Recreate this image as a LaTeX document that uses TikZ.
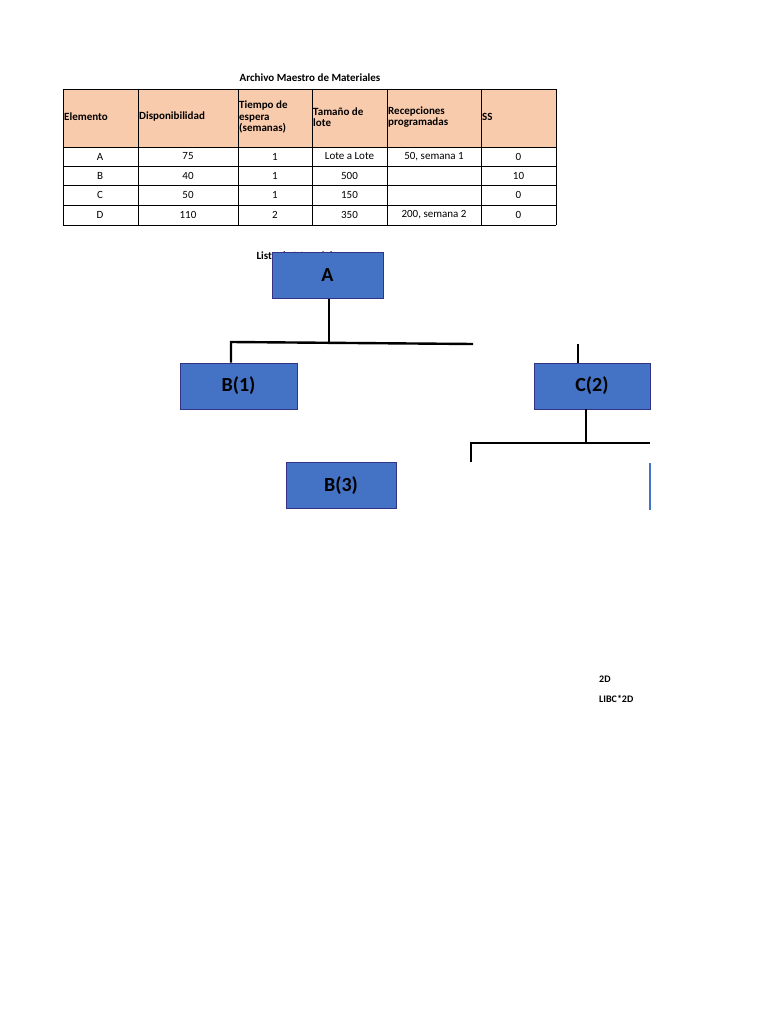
\documentclass[tikz,border=0pt]{standalone}
\usepackage{fontspec}
\setmainfont{Carlito}
\begin{document}
\begin{tikzpicture}[x=1pt,y=-1pt,
  cell/.style={draw=black,line width=0.6pt},
  bx/.style={draw=blue!40!black!80,fill=boxblue,line width=0.8pt,minimum width=#1,minimum height=46pt,inner sep=0pt,font=\bfseries\fontsize{20}{22}\selectfont},
  ln/.style={line width=2.4pt}]
\definecolor{peach}{HTML}{F8CBAD}
\definecolor{boxblue}{HTML}{4472C4}
\useasboundingbox (0,0) rectangle (768,1024);
\fill[white] (0,0) rectangle (768,1024);
\node[font=\bfseries\fontsize{11}{13}\selectfont] (title) at (310,78) {Archivo Maestro de Materiales};
% header
\fill[peach] (63,89) rectangle (556,147);
\def\xs{63,138,238,312,387,481,556}
\foreach \x in \xs {\draw[cell] (\x,89) -- (\x,225);}
\foreach \y in {89,147,166,185,205,225} {\draw[cell] (63,\y) -- (556,\y);}
\begin{scope}[font=\bfseries\fontsize{11}{11.5}\selectfont]
\node[anchor=west,inner sep=1pt] (h1) at (63,117) {Elemento};
\node[anchor=west,inner sep=1pt] (h2) at (138,117) {Disponibilidad};
\node[anchor=west,inner sep=1pt,align=left] (h3) at (238,117) {Tiempo de\\espera\\(semanas)};
\node[anchor=west,inner sep=1pt,align=left] (h4) at (312,117) {Tamaño de\\lote};
\node[anchor=west,inner sep=1pt,align=left] (h5) at (387,117) {Recepciones\\programadas};
\node[anchor=west,inner sep=1pt] (h6) at (481,117) {SS};
\end{scope}
\begin{scope}[font=\fontsize{11}{13}\selectfont]
\foreach \r/\y in {1/156.5,2/175.5,3/195,4/215}{}
\node (a1) at (100,156.5) {A}; \node (a2) at (188,156.5) {75}; \node (a3) at (275,156.5) {1}; \node (a4) at (349.5,156.5) {Lote a Lote}; \node (a5) at (434,156.5) {50, semana 1}; \node (a6) at (518.5,156.5) {0};
\node (b1) at (100,175.5) {B}; \node (b2) at (188,175.5) {40}; \node (b3) at (275,175.5) {1}; \node (b4) at (349.5,175.5) {500}; \node (b6) at (518.5,175.5) {10};
\node (c1) at (100,195) {C}; \node (c2) at (188,195) {50}; \node (c3) at (275,195) {1}; \node (c4) at (349.5,195) {150}; \node (c6) at (518.5,195) {0};
\node (d1) at (100,215) {D}; \node (d2) at (188,215) {110}; \node (d3) at (275,215) {2}; \node (d4) at (349.5,215) {350}; \node (d5) at (434,215) {200, semana 2}; \node (d6) at (518.5,215) {0};
\end{scope}
\node[anchor=west,font=\bfseries\fontsize{11}{13}\selectfont] (lista) at (253,256) {Lista de Materiales};
\node[bx=111pt] (A) at (327.5,275.5) {A};
\node[bx=117pt] (B1) at (238.5,386) {B(1)};
\node[bx=116pt] (C2) at (592,386) {C(2)};
\node[bx=110pt] (B3) at (341,485.5) {B(3)};
\coordinate (j1) at (329,343);
\coordinate (l1) at (231,342);
\coordinate (r1) at (473,344);
\coordinate (s1) at (578,344);
\draw[ln] (A.south -| j1) -- (j1);
\draw[ln] (B1.north -| l1) -- (l1) -- (r1);
\draw[ln] (s1) -- (C2.north -| s1);
\coordinate (j2) at (586,443);
\coordinate (l2) at (471,443);
\coordinate (l2b) at (471,462);
\coordinate (r2) at (650,443);
\draw[ln] (C2.south -| j2) -- (j2);
\draw[ln] (l2b) -- (l2) -- (r2);
\coordinate (e1) at (650,463); \coordinate (e2) at (650,510);
\draw[boxblue,line width=1.2pt] (e1) -- (e2);
\fill[white] (651,240) rectangle (768,520);
\node[anchor=west,inner sep=0pt,font=\bfseries\fontsize{10}{12}\selectfont] (t1) at (599,679) {2D};
\node[anchor=west,inner sep=0pt,font=\bfseries\fontsize{10}{12}\selectfont] (t2) at (599,699) {LIBC*2D};
\end{tikzpicture}
\end{document}
